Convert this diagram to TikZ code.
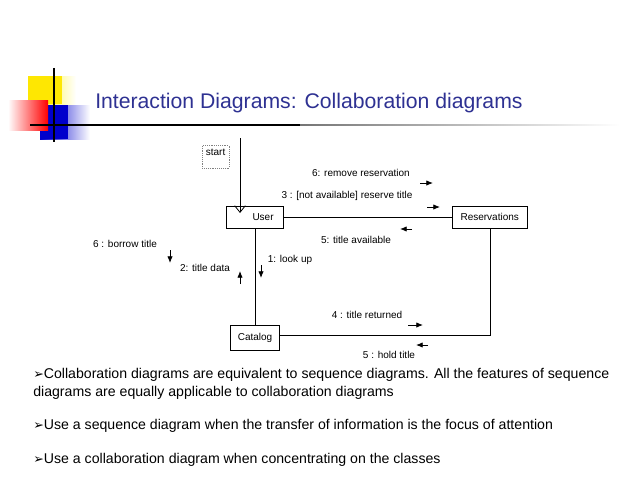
\documentclass[tikz,border=0pt]{standalone}
\usepackage{fontspec}
\setmainfont{Liberation Sans}
\newfontfamily\symfont{DejaVu Sans}
\usetikzlibrary{arrows.meta}
\definecolor{ttl}{HTML}{2E3192}
\tikzset{
  obj/.style={draw,semithick,minimum height=16.5pt,inner sep=2pt,font=\fontsize{7.5}{9}\selectfont,anchor=north west,align=left},
  lbl/.style={font=\fontsize{7.5}{9}\selectfont,inner sep=1pt},
  msg/.style={-{Latex[length=5pt,width=4pt]},semithick},
  body/.style={font=\fontsize{10.6}{13}\selectfont,anchor=base west,inner sep=0pt},
  conn/.style={semithick}
}
\newcommand{\bul}{{\symfont\fontsize{9.5}{12}\selectfont ➢}}
\begin{document}
\begin{tikzpicture}[x=0.75pt,y=-0.75pt]
\useasboundingbox (0,0) rectangle (638,478);
% decoration
\shade[left color=yellow!90!orange,right color=white] (28,76) rectangle (76,104);
\fill[yellow!90!orange] (28,76) rectangle (62,104);
\shade[left color=blue!80!black,right color=white] (40,105) rectangle (90,139);
\fill[blue!80!black] (40,105) rectangle (68,139);
\shade[left color=white,right color=red] (8,100) rectangle (48,130);
\draw[line width=1.5pt] (54,68) -- (54,142);
\shade[left color=black,right color=white] (30,124.3) rectangle (620,125.8);
\fill (30,124.3) rectangle (300,125.8);
\node[anchor=base west,inner sep=0pt,text=ttl,font=\fontsize{15.9}{18}\selectfont] (title) at (95,108) {Interaction Diagrams: Collaboration diagrams};
% diagram
\node[draw=gray,densely dotted,anchor=north west,minimum width=20pt,inner sep=2pt,font=\fontsize{7.5}{9}\selectfont,text height=6pt,text depth=7pt] (start) at (202,145) {start};
\node[obj,minimum width=43pt] (user) at (226,206) {\hspace*{12pt}User};
\node[obj,minimum width=56pt] (res) at (452,206) {Reservations};
\node[obj,minimum width=37pt,minimum height=19pt] (cat) at (230,325) {Catalog};
\coordinate (s0) at (240,138);
\coordinate (s1) at (240,213);
\draw[conn,-{Straight Barb[length=5pt,width=8pt]}] (s0) -- (s1);
\draw[conn] (user.east) -- (res.west);
\draw[conn] (user.south -| 255,0) -- (cat.north -| 255,0);
\coordinate (rc) at (490,335);
\draw[conn] (res.south -| rc) -- (rc) -- (cat.east |- rc);
% labels
\node[lbl] (l6r) at (361,173) {6: remove reservation};
\node[lbl] (l3) at (347,196) {3 : [not available] reserve title};
\node[lbl] (l5a) at (356,240) {5: title available};
\node[lbl] (l6b) at (125,244) {6 : borrow title};
\node[lbl] (l2) at (205,268) {2: title data};
\node[lbl] (l1) at (290,260) {1: look up};
\node[lbl] (l4) at (367,315) {4 : title returned};
\node[lbl] (l5h) at (389,355) {5 : hold title};
% arrows
\coordinate (a1) at (420,183); \coordinate (a1e) at (433,183);
\coordinate (a2) at (427,207); \coordinate (a2e) at (440,207);
\coordinate (a3) at (412,229); \coordinate (a3e) at (400,229);
\coordinate (a4) at (170,250); \coordinate (a4e) at (170,263);
\coordinate (a5) at (240,284); \coordinate (a5e) at (240,271);
\coordinate (a6) at (261,265); \coordinate (a6e) at (261,278);
\coordinate (a7) at (408,325); \coordinate (a7e) at (423,325);
\coordinate (a8) at (428,345); \coordinate (a8e) at (416,345);
\foreach \a in {1,...,8}{\draw[msg] (a\a) -- (a\a e);}
% body
\node[body] (b1) at (33,378) {\bul Collaboration diagrams are equivalent to sequence diagrams. All the features of sequence};
\node[body] (b2) at (33,396) {diagrams are equally applicable to collaboration diagrams};
\node[body] (b3) at (33,429) {\bul Use a sequence diagram when the transfer of information is the focus of attention};
\node[body] (b4) at (33,463) {\bul Use a collaboration diagram when concentrating on the classes};
\end{tikzpicture}
\end{document}
